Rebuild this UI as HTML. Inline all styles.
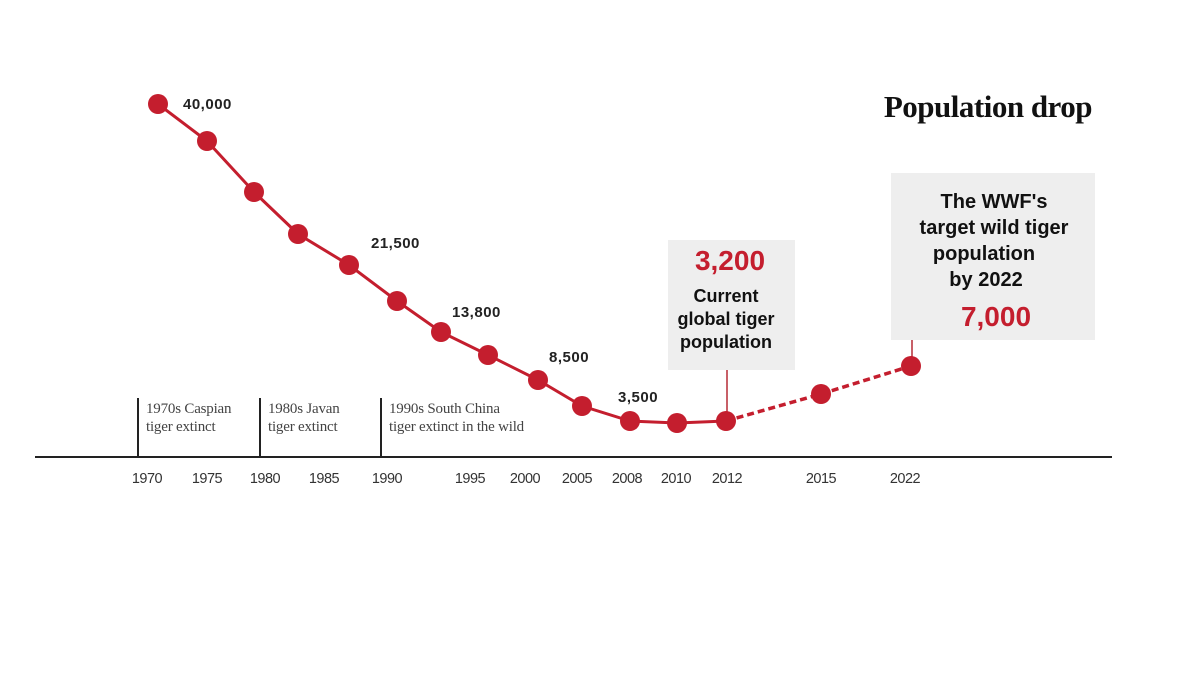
<!DOCTYPE html>
<html><head><style>
body{margin:0;background:#fff;}
.s{font-family:"Liberation Sans",sans-serif;}
.f{font-family:"Liberation Serif",serif;}
</style></head><body>
<svg width="1200" height="676" viewBox="0 0 1200 676" xmlns="http://www.w3.org/2000/svg">
<rect width="1200" height="676" fill="#fff"/>
<text class="f" x="1092" y="117" text-anchor="end" font-weight="bold" font-size="31" fill="#111" letter-spacing="-0.5">Population drop</text>
<rect x="668" y="240" width="127" height="130" fill="#eeeeee"/>
<rect x="891" y="173" width="204" height="167" fill="#eeeeee"/>
<line x1="727" y1="370" x2="727" y2="421" stroke="#b52b35" stroke-width="1.5"/>
<line x1="912" y1="340" x2="912" y2="366" stroke="#b52b35" stroke-width="1.5"/>
<text class="s" x="730" y="270" text-anchor="middle" font-weight="bold" font-size="28" fill="#c41e2e">3,200</text>
<g class="s" font-size="18" fill="#111" text-anchor="middle" font-weight="bold">
<text x="726" y="302">Current</text>
<text x="726" y="325">global tiger</text>
<text x="726" y="348">population</text>
<text x="994" y="208" font-size="20">The WWF's</text>
<text x="994" y="234" font-size="20">target wild tiger</text>
<text x="984" y="260" font-size="20">population</text>
<text x="986" y="286" font-size="20">by 2022</text>
</g>
<text class="s" x="996" y="326" text-anchor="middle" font-weight="bold" font-size="28" fill="#c41e2e">7,000</text>
<line x1="35" y1="457" x2="1112" y2="457" stroke="#222" stroke-width="2"/>
<g stroke="#222" stroke-width="2">
<line x1="138" y1="398" x2="138" y2="457"/>
<line x1="260" y1="398" x2="260" y2="457"/>
<line x1="381" y1="398" x2="381" y2="457"/>
</g>
<g class="f" font-size="15" fill="#444" letter-spacing="-0.2">
<text x="146" y="413">1970s Caspian</text><text x="146" y="431">tiger extinct</text>
<text x="268" y="413">1980s Javan</text><text x="268" y="431">tiger extinct</text>
<text x="389" y="413">1990s South China</text><text x="389" y="431">tiger extinct in the wild</text>
</g>
<g class="s" font-size="14.5" fill="#333" text-anchor="middle" letter-spacing="-0.5">
<text x="147" y="483">1970</text><text x="207" y="483">1975</text><text x="265" y="483">1980</text>
<text x="324" y="483">1985</text><text x="387" y="483">1990</text><text x="470" y="483">1995</text>
<text x="525" y="483">2000</text><text x="577" y="483">2005</text><text x="627" y="483">2008</text>
<text x="676" y="483">2010</text><text x="727" y="483">2012</text><text x="821" y="483">2015</text>
<text x="905" y="483">2022</text>
</g>
<polyline points="158,104 207,141 254,192 298,234 349,265 397,301 441,332 488,355 538,380 582,406 630,421 677,423 726,421" fill="none" stroke="#c41e2e" stroke-width="3"/>
<polyline points="726,421 821,394 911,366" fill="none" stroke="#c41e2e" stroke-width="3.5" stroke-dasharray="7,4"/>
<g fill="#c41e2e">
<circle cx="158" cy="104" r="10"/><circle cx="207" cy="141" r="10"/><circle cx="254" cy="192" r="10"/>
<circle cx="298" cy="234" r="10"/><circle cx="349" cy="265" r="10"/><circle cx="397" cy="301" r="10"/>
<circle cx="441" cy="332" r="10"/><circle cx="488" cy="355" r="10"/><circle cx="538" cy="380" r="10"/>
<circle cx="582" cy="406" r="10"/><circle cx="630" cy="421" r="10"/><circle cx="677" cy="423" r="10"/>
<circle cx="726" cy="421" r="10"/><circle cx="821" cy="394" r="10"/><circle cx="911" cy="366" r="10"/>
</g>
<g class="s" font-size="15" font-weight="bold" fill="#222" letter-spacing="0.5">
<text x="183" y="109">40,000</text><text x="371" y="248">21,500</text><text x="452" y="317">13,800</text>
<text x="549" y="362">8,500</text><text x="618" y="402">3,500</text>
</g>
</svg>
</body></html>
